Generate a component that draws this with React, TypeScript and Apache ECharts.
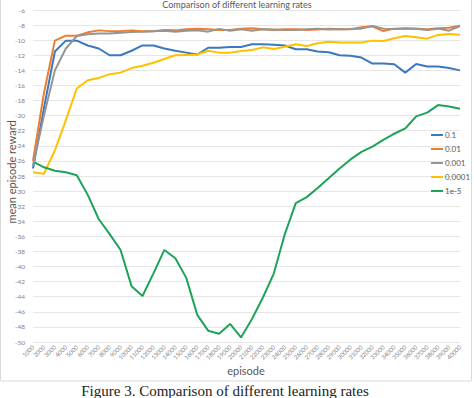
import React, { useEffect, useRef } from "react";
import * as echarts from "echarts";

const episodes: string[] = [
  "1000","2000","3000","4000","5000","6000","7000","8000","9000","10000",
  "11000","12000","13000","14000","15000","16000","17000","18000","19000","20000",
  "21000","22000","23000","24000","25000","26000","27000","28000","29000","30000",
  "31000","32000","33000","34000","35000","36000","37000","38000","39000","40000",
];

const lr01: number[] = [
  -27.0, -19.0, -11.5, -10.06, -10.06, -10.7, -11.1, -12.0, -12.0, -11.4,
  -10.7, -10.7, -11.1, -11.4, -11.65, -11.9, -11.0, -11.0, -10.9, -10.9,
  -10.55, -10.55, -10.6, -10.7, -11.2, -11.2, -11.5, -11.6, -12.0, -12.05,
  -12.3, -13.1, -13.1, -13.2, -14.3, -13.15, -13.5, -13.5, -13.7, -14.0,
];

const lr001: number[] = [
  -26.0, -17.0, -10.06, -9.4, -9.4, -8.96, -8.7, -8.8, -8.8, -8.7,
  -8.8, -8.8, -8.65, -8.7, -8.55, -8.5, -8.55, -8.65, -8.65, -8.5,
  -8.43, -8.56, -8.65, -8.56, -8.56, -8.65, -8.6, -8.47, -8.56, -8.56,
  -8.3, -8.16, -8.8, -8.47, -8.43, -8.47, -8.56, -8.43, -8.34, -8.1,
];

const lr0001: number[] = [
  -26.6, -20.0, -14.0, -11.1, -9.45, -9.2, -9.1, -9.1, -9.0, -8.9,
  -8.87, -8.8, -8.75, -8.87, -8.75, -8.7, -8.87, -8.5, -8.75, -8.55,
  -8.74, -8.56, -8.6, -8.65, -8.65, -8.56, -8.47, -8.6, -8.56, -8.52,
  -8.47, -8.12, -8.47, -8.52, -8.47, -8.47, -8.65, -8.47, -8.74, -8.12,
];

const lr00001: number[] = [
  -27.5, -27.7, -24.6, -20.6, -16.4, -15.3, -15.0, -14.5, -14.3, -13.7,
  -13.4, -13.0, -12.5, -12.0, -11.95, -11.9, -11.4, -11.65, -11.65, -11.43,
  -11.3, -10.95, -11.17, -10.86, -10.55, -10.77, -10.4, -10.2, -10.3, -10.3,
  -10.3, -10.06, -10.1, -9.75, -9.44, -9.6, -9.8, -9.3, -9.18, -9.27,
];

const lr1e5: number[] = [
  -26.1, -26.85, -27.3, -27.5, -27.9, -30.5, -33.7, -35.7, -37.8, -42.6,
  -43.9, -40.9, -37.8, -38.9, -41.5, -46.4, -48.5, -48.9, -47.6, -49.4,
  -46.95, -44.1, -40.9, -35.7, -31.6, -30.8, -29.6, -28.3, -27.0, -25.8,
  -24.8, -24.1, -23.2, -22.4, -21.7, -20.1, -19.6, -18.6, -18.8, -19.1,
];

const seriesNames: string[] = ["0.1", "0.01", "0.001", "0.0001", "1e-5"];
const seriesColors: string[] = ["#3a78c0", "#ed7d31", "#959595", "#ffc000", "#1ea35a"];
const seriesData: number[][] = [lr01, lr001, lr0001, lr00001, lr1e5];

const FONT = "Lato, 'Noto Sans', sans-serif";

export default function App() {
  const ref = useRef<HTMLDivElement>(null);
  useEffect(() => {
    if (!ref.current) return;
    const chart = echarts.init(ref.current, undefined, { renderer: "svg" });
    chart.setOption({
      animation: false,
      backgroundColor: "#ffffff",
      grid: { left: 33, right: 14, top: 10, bottom: 56 },
      legend: {
        orient: "vertical",
        left: 426,
        top: 125,
        icon: "rect",
        itemWidth: 12,
        itemHeight: 2,
        itemGap: 4,
        data: seriesNames,
        textStyle: { fontSize: 8, color: "#595959", fontFamily: FONT, lineHeight: 10, padding: [0, 0, 0, -3] },
      },
      xAxis: {
        type: "category",
        data: episodes,
        boundaryGap: false,
        axisLine: { show: false },
        axisTick: { show: false },
        axisLabel: {
          interval: 0,
          rotate: 45,
          fontSize: 6,
          margin: 4,
          color: "#7f7f7f",
          fontFamily: FONT,
        },
        splitLine: { show: false },
      },
      yAxis: {
        type: "value",
        min: -50,
        max: -6,
        interval: 2,
        axisLine: { show: false },
        axisTick: { show: false },
        axisLabel: { fontSize: 6.5, margin: 8, color: "#7f7f7f", fontFamily: FONT },
        splitLine: { lineStyle: { color: "#e6e6e6", width: 1 } },
      },
      series: seriesNames.map((name, k) => ({
        name,
        type: "line",
        data: seriesData[k],
        showSymbol: false,
        symbol: "none",
        color: seriesColors[k],
        lineStyle: { width: 2, color: seriesColors[k] },
        z: k === 2 ? 4 : 3,
      })),
      graphic: [
        {
          type: "rect",
          shape: { x: 0.5, y: -1, width: 471, height: 382 },
          style: { fill: "none", stroke: "#d9d9d9", lineWidth: 1 },
          silent: true,
        },
        {
          type: "text",
          x: 237,
          y: 0,
          style: {
            text: "Comparison of different learning rates",
            fontSize: 9,
            fill: "#595959",
            fontFamily: FONT,
            align: "center",
            verticalAlign: "top",
          },
        },
        {
          type: "text",
          x: 11,
          y: 172,
          rotation: Math.PI / 2,
          style: {
            text: "mean episode reward",
            fontSize: 11,
            fill: "#595959",
            fontFamily: FONT,
            align: "center",
            verticalAlign: "middle",
          },
        },
        {
          type: "text",
          x: 246,
          y: 370,
          style: {
            text: "episode",
            fontSize: 11,
            fill: "#595959",
            fontFamily: FONT,
            align: "center",
            verticalAlign: "middle",
          },
        },
        {
          type: "text",
          x: 225,
          y: 383,
          style: {
            text: "Figure 3. Comparison of different learning rates",
            fontSize: 15,
            fill: "#222222",
            fontFamily: "'Liberation Serif', 'DejaVu Serif', serif",
            align: "center",
            verticalAlign: "top",
          },
        },
      ],
    });
    return () => chart.dispose();
  }, []);
  return <div ref={ref} style={{ width: 474, height: 398, position: "fixed", left: 0, top: 0 }} />;
}
